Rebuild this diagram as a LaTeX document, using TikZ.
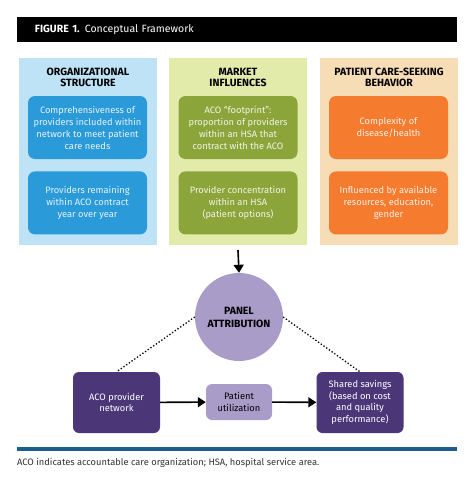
\documentclass[tikz,border=0pt]{standalone}
\usepackage{fontspec}
\setmainfont{Fira Sans}
\usetikzlibrary{positioning,arrows.meta}
\definecolor{bluewash}{HTML}{BEE3F6}
\definecolor{bluebox}{HTML}{2A9AD8}
\definecolor{greenwash}{HTML}{E2EBA9}
\definecolor{greenbox}{HTML}{8CA53A}
\definecolor{orangewash}{HTML}{F7DDB6}
\definecolor{orangebox}{HTML}{F57B2E}
\definecolor{plum}{HTML}{4B3678}
\definecolor{lavender}{HTML}{AA9CC8}
\definecolor{rulebar}{HTML}{1D5E8F}
\definecolor{note}{HTML}{333333}

\begin{document}
\begin{tikzpicture}[x=1pt,y=-1pt,
  panel/.style={fill=#1,minimum width=138pt,minimum height=187pt,inner sep=0pt},
  head/.style={font=\fontsize{10.5}{11.5}\selectfont\bfseries,align=center,text=black},
  factor/.style={fill=#1,text=white!88!#1,rounded corners=7pt,minimum width=119pt,
                 minimum height=63pt,align=center,
                 font=\fontsize{9.3}{12}\selectfont},
  outcome/.style={fill=plum,text=white,rounded corners=6pt,minimum width=87pt,
                  minimum height=61pt,align=center,
                  font=\fontsize{9.3}{11.5}\selectfont},
  ar/.style={-{Triangle[length=8pt,width=10pt]},line width=1.6pt,draw=black},
  dots/.style={dotted,line width=1.3pt}
]
\useasboundingbox (0,0) rectangle (474,488);

\node[fill=black,text=white,minimum width=440pt,minimum height=25pt,text width=422pt,
      inner xsep=9pt,align=left,font=\fontsize{10.5}{12}\selectfont] (title) at (237,29.5)
      {\hspace*{9pt}\textbf{FIGURE 1.} Conceptual Framework};

\node[panel=bluewash] (org) at (88,151.5) {};
\node[panel=greenwash] (mkt) at (238,151.5) {};
\node[panel=orangewash] (pat) at (389,151.5) {};

\node[head] (orghd) at (88,77.5) {ORGANIZATIONAL\\STRUCTURE};
\node[head] (mkthd) at (238,77.5) {MARKET\\INFLUENCES};
\node[head] (pathd) at (389,77.5) {PATIENT CARE-SEEKING\\BEHAVIOR};

\node[factor=bluebox] (org1) at (87.5,127.5) {Comprehensiveness of\\providers included within\\network to meet patient\\care needs};
\node[factor=bluebox,below=12pt of org1] (org2) {Providers remaining\\within ACO contract\\year over year};
\node[factor=greenbox] (mkt1) at (238,127.5) {ACO ``footprint'':\\proportion of providers\\within an HSA that\\contract with the ACO};
\node[factor=greenbox,below=12pt of mkt1] (mkt2) {Provider concentration\\within an HSA\\(patient options)};
\node[factor=orangebox] (pat1) at (388.5,127.5) {Complexity of\\disease/health};
\node[factor=orangebox,below=12pt of pat1] (pat2) {Influenced by available\\resources, education,\\gender};

\node[circle,fill=lavender,minimum size=88pt,align=center,
      font=\fontsize{10.5}{13}\selectfont\bfseries] (att) at (239,317) {PANEL\\ATTRIBUTION};

\node[outcome] (net) at (116.5,402.5) {ACO provider\\network};
\node[fill=lavender,rounded corners=6pt,minimum width=66pt,minimum height=36pt,align=center,
      font=\fontsize{9.3}{11.5}\selectfont] (util) at (239,402) {Patient\\utilization};
\node[outcome] (sav) at (360,402.5) {Shared savings\\(based on cost\\and quality\\performance)};

\draw[ar] ([yshift=-5pt]mkt.south) -- (att.north);
\draw[dots] (att.west) -- (net.north);
\draw[dots] (att.east) -- (sav.north);
\draw[ar] (net) -- (util);
\draw[ar] (util) -- (sav);

\draw[rulebar,line width=3.5pt] (17,449) -- (457,449);
\node[anchor=west,inner sep=0pt,text=note,font=\fontsize{9.3}{11}\selectfont] (foot) at (17,463)
      {ACO indicates accountable care organization; HSA, hospital service area.};
\end{tikzpicture}
\end{document}
